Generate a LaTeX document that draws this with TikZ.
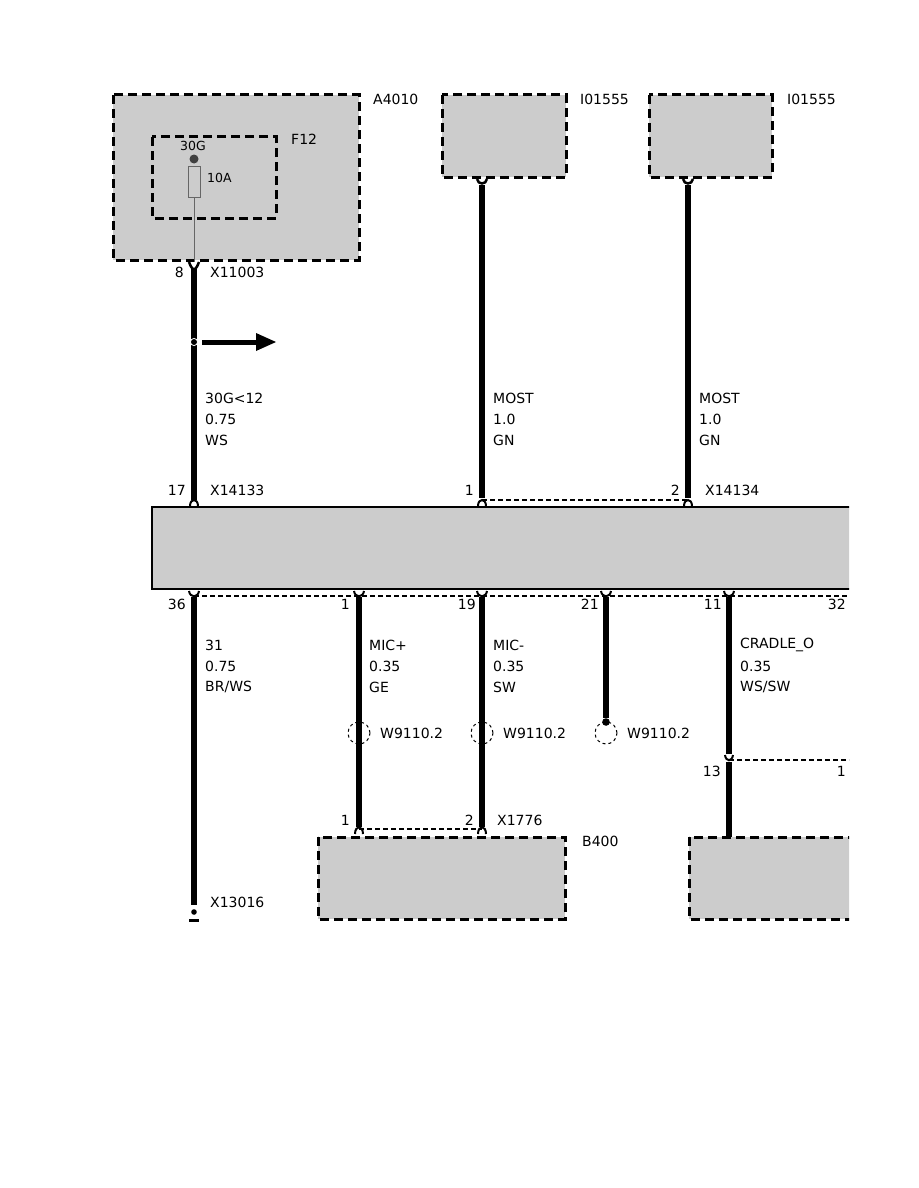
\documentclass[tikz,border=0pt]{standalone}
\usepackage{fontspec}
\setmainfont{DejaVu Sans}
\begin{document}
\begin{tikzpicture}[x=1pt,y=-1pt,
  dbox/.style={fill=black!20,draw=black,line width=3pt,dash pattern=on 9pt off 5pt},
  wire/.style={line width=5.5pt},
  lbl/.style={anchor=west,inner sep=0pt,font=\fontsize{14}{16}\selectfont},
  pin/.style={anchor=east,inner sep=0pt,font=\fontsize{14}{16}\selectfont},
  cdash/.style={line width=1.1pt,dash pattern=on 5pt off 3pt}]
\useasboundingbox (0,0) rectangle (918,1188);
\begin{scope}
\clip (0,0) rectangle (849,1188);
% top left module
\draw[dbox] (113,95) rectangle (359,260);
\node[lbl] (a4010) at (373,99) {A4010};
\draw[dbox] (152,137) rectangle (276,218);
\node[lbl] (f12) at (291,139) {F12};
\node[lbl,font=\fontsize{12.5}{14}\selectfont] (t30) at (180,146) {30G};
\fill[black!75] (194,159) circle (4.5pt);
\draw[black!60,line width=1pt] (188,166) rectangle (200,197);
\draw[black!60,line width=1pt] (194,197) -- (194,262);
\node[lbl,font=\fontsize{12.5}{14}\selectfont] (f10) at (207,178) {10A};
% fork connector
\draw[line width=2.5pt] (189,262) .. controls (191,267) .. (194,270) .. controls (197,267) .. (199,262);
\node[pin] (p8) at (184,272) {8};
\node[lbl] (x11003) at (210,272) {X11003};
\draw[wire] (194,269) -- (194,500);
\fill[white] (194,342) circle (4pt);
\fill (194,342) circle (3pt);
\draw[line width=5pt] (202,342) -- (258,342);
\fill (256,333) -- (276,342) -- (256,351) -- cycle;
\node[lbl] at (205,398) {30G<12};
\node[lbl] at (205,419) {0.75};
\node[lbl] at (205,440) {WS};
\node[pin] at (186,490) {17};
\node[lbl] at (210,490) {X14133};
% I01555 boxes
\draw[dbox] (442,95) rectangle (566,177);
\node[lbl] at (580,99) {I01555};
\draw[dbox] (649,95) rectangle (772,177);
\node[lbl] at (787,99) {I01555};
\foreach \x in {482,688}{
  \draw[line width=2.5pt] (\x-5,179) .. controls (\x-4,185) and (\x+4,185) .. (\x+5,179);
  \draw[wire] (\x,185) -- (\x,498);
  \node[lbl] at (\x+11,398) {MOST};
  \node[lbl] at (\x+11,419) {1.0};
  \node[lbl] at (\x+11,440) {GN};
}
\node[pin] at (474,490) {1};
\node[pin] at (680,490) {2};
\node[lbl] at (705,490) {X14134};
\draw[cdash] (482,500) -- (688,500);
\foreach \x in {194,482,688}{
  \draw[line width=2pt] (\x-4,506) .. controls (\x-4,498) and (\x+4,498) .. (\x+4,506);
}
% main box
\draw[fill=black!20,line width=2.8pt] (152,507) rectangle (870,589);
% bottom connector row
\draw[cdash] (194,596) -- (860,596);
\foreach \x in {194,359,482,606,729}{
  \draw[line width=2pt] (\x-5,591) .. controls (\x-4,598) and (\x+4,598) .. (\x+5,591);
}
\node[pin] at (186,604) {36};
\node[pin] at (350,604) {1};
\node[pin] at (476,604) {19};
\node[pin] at (599,604) {21};
\node[pin] at (722,604) {11};
\node[pin] at (846,604) {32};
% wires down
\draw[wire] (194,597) -- (194,905);
\fill (194,912) circle (2.8pt);
\draw[line width=3pt] (189,920) -- (199,920);
\node[lbl] at (210,902) {X13016};
\node[lbl] at (205,645) {31};
\node[lbl] at (205,666) {0.75};
\node[lbl] at (205,687) {BR/WS};
\draw[wire] (359,597) -- (359,827);
\node[lbl] at (369,645) {MIC+};
\node[lbl] at (369,666) {0.35};
\node[lbl] at (369,687) {GE};
\draw[wire] (482,597) -- (482,827);
\node[lbl] at (493,645) {MIC-};
\node[lbl] at (493,666) {0.35};
\node[lbl] at (493,687) {SW};
\draw[wire] (606,597) -- (606,718);
\fill (606,722) circle (3.8pt);
\draw[wire] (729,597) -- (729,754);
\node[lbl] at (740,645) {CRADLE\_O};
\node[lbl] at (740,666) {0.35};
\node[lbl] at (740,687) {WS/SW};
\foreach \x in {359,482,606}{
  \draw[line width=1pt,dash pattern=on 3pt off 3pt] (\x,733) circle (11pt);
  \node[lbl] at (\x+21,733) {W9110.2};
}
% connector 13
\draw[line width=2pt] (725,755) .. controls (726,762) and (732,762) .. (733,755);
\draw[cdash] (729,760) -- (860,760);
\draw[wire] (729,762) -- (729,838);
\node[pin] at (721,771) {13};
\node[pin] at (846,771) {1};
% X1776
\draw[cdash] (359,829) -- (482,829);
\foreach \x in {359,482}{
  \draw[line width=2pt] (\x-4,834) .. controls (\x-4,825) and (\x+4,825) .. (\x+4,834);
}
\node[pin] at (350,820) {1};
\node[pin] at (474,820) {2};
\node[lbl] at (497,820) {X1776};
\draw[dbox] (318,837) rectangle (565,919);
\node[lbl] at (582,841) {B400};
\draw[dbox] (689,837) rectangle (880,919);
\end{scope}
\end{tikzpicture}
\end{document}
